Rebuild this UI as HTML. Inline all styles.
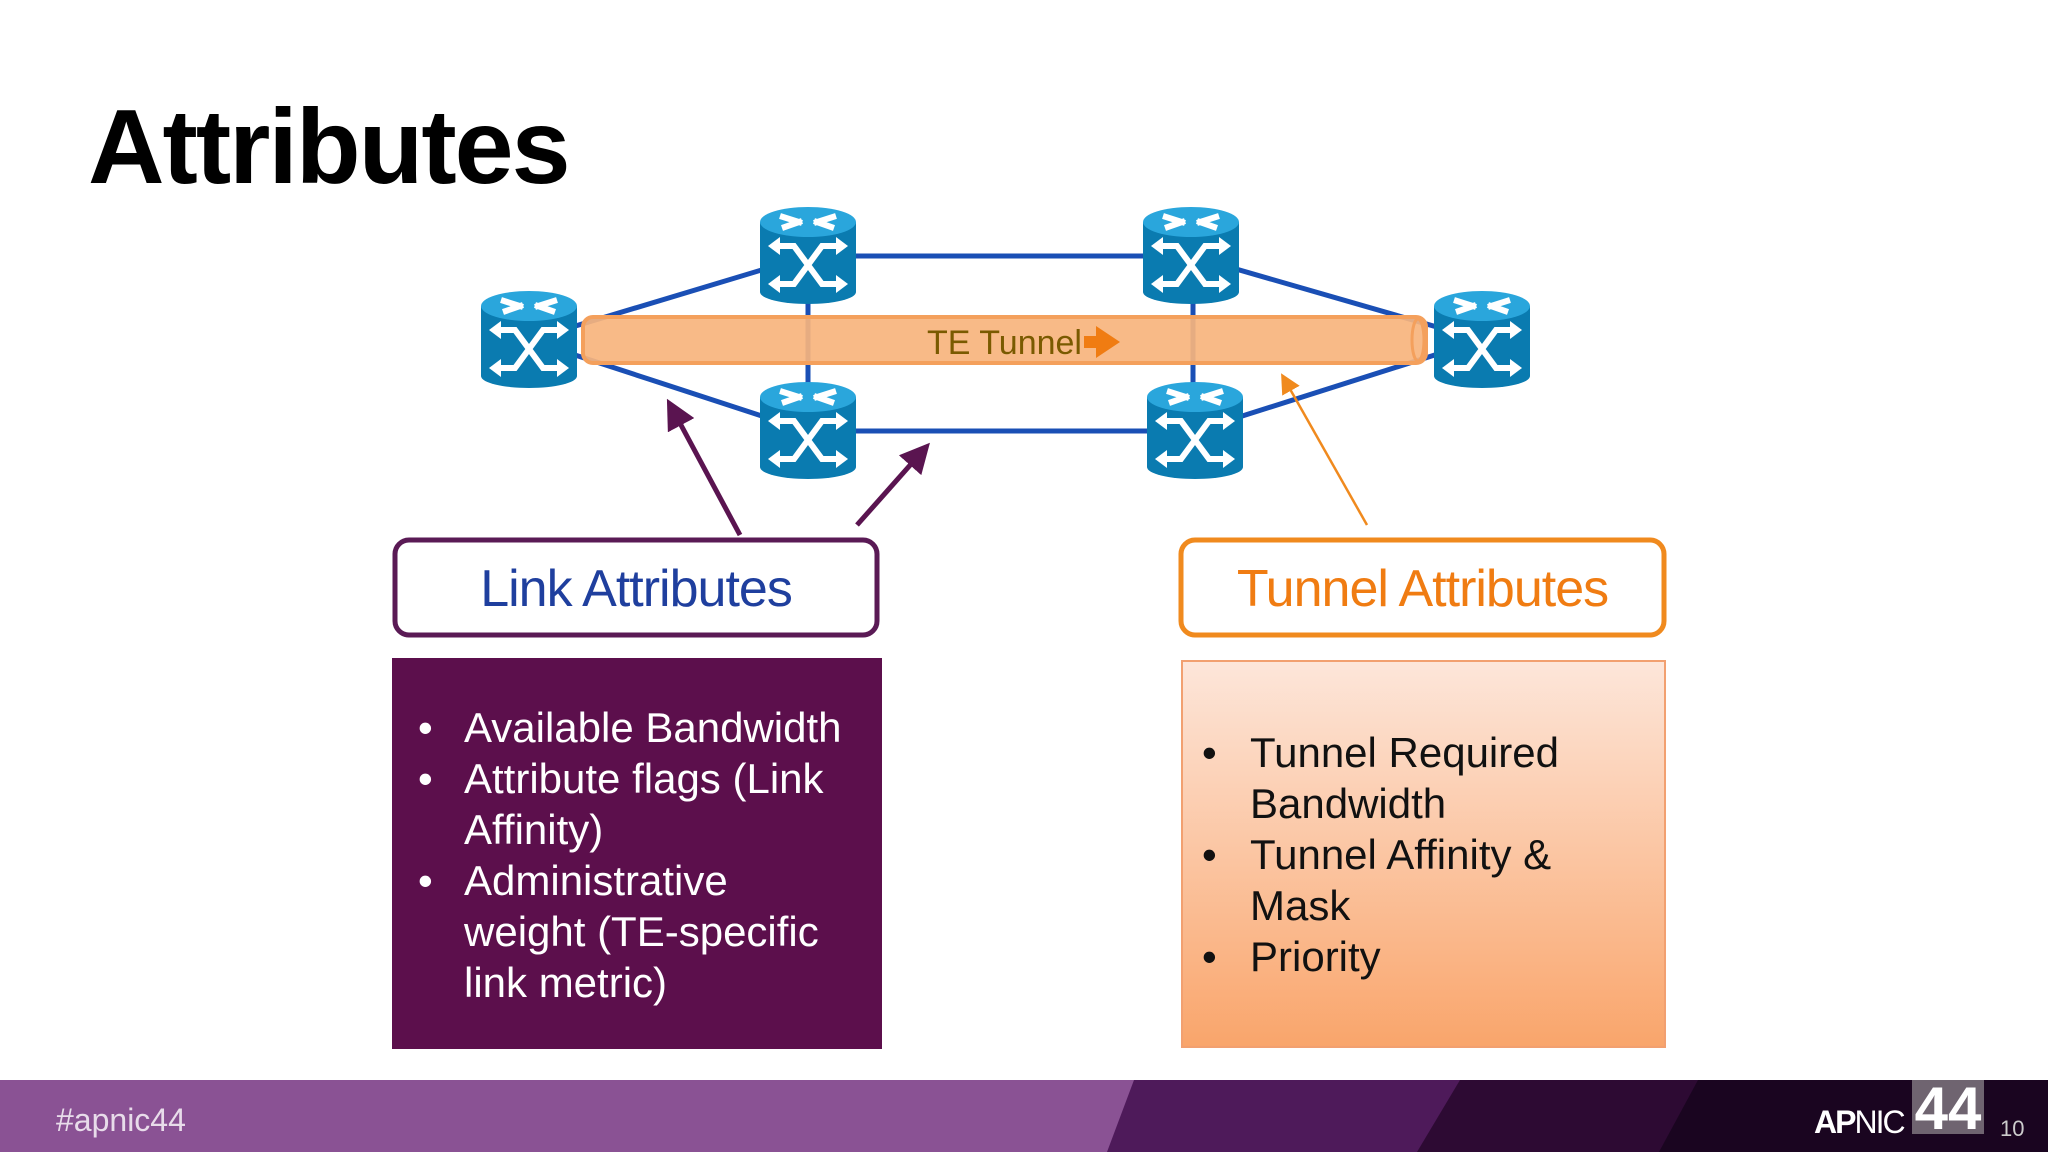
<!DOCTYPE html>
<html><head><meta charset="utf-8"><style>
body{margin:0;width:2048px;height:1152px;overflow:hidden;background:#fff;font-family:"Liberation Sans",sans-serif;position:relative}
.abs{position:absolute}
</style></head><body>
<div class="abs" style="left:88px;top:82px;font-size:106px;font-weight:bold;letter-spacing:-2px;line-height:130px;color:#000">Attributes</div>

<svg class="abs" style="left:0;top:0" width="2048" height="1152">
<defs>
<g id="rt">
<rect x="-48" y="-34" width="96" height="70" fill="#0a7bb0"/>
<ellipse cx="0" cy="36" rx="48" ry="12" fill="#0a7bb0"/>
<ellipse cx="0" cy="-34" rx="48" ry="15" fill="#2aa6dc"/>
<g stroke="#fff" stroke-width="6" fill="none">
<path d="M-28 -40 L-6 -33 M-26 -28 L-6 -35 M28 -40 L6 -33 M26 -28 L6 -35"/>
<path d="M-30 -10 L-14 -10 L14 28 L30 28 M30 -10 L14 -10 L-14 28 L-30 28"/>
</g>
<g fill="#fff">
<polygon points="-40,-10 -28,-19 -28,-1"/><polygon points="40,-10 28,-19 28,-1"/>
<polygon points="-40,28 -28,19 -28,37"/><polygon points="40,28 28,19 28,37"/>
</g>
</g>
<marker id="mp" markerWidth="6" markerHeight="6" refX="3" refY="3" orient="auto"><path d="M0,0 L6,3 L0,6 Z" fill="#5a1450"/></marker>
<marker id="mo" markerWidth="8" markerHeight="8" refX="4" refY="4" orient="auto"><path d="M0,0 L8,4 L0,8 Z" fill="#f08a1e"/></marker>
<linearGradient id="og" x1="0" y1="0" x2="0" y2="1"><stop offset="0" stop-color="#fde6da"/><stop offset="1" stop-color="#f9a56b"/></linearGradient>
</defs>
<g stroke="#1a4fb5" stroke-width="5">
<line x1="529" y1="340" x2="808" y2="256"/><line x1="808" y1="256" x2="1191" y2="256"/>
<line x1="1191" y1="256" x2="1482" y2="340"/><line x1="529" y1="340" x2="808" y2="431"/>
<line x1="808" y1="431" x2="1195" y2="431"/><line x1="1195" y1="431" x2="1482" y2="340"/>
<line x1="808" y1="256" x2="808" y2="431"/><line x1="1193" y1="256" x2="1193" y2="431"/>
</g>
<use href="#rt" x="529" y="340"/><use href="#rt" x="808" y="256"/><use href="#rt" x="1191" y="256"/>
<use href="#rt" x="808" y="431"/><use href="#rt" x="1195" y="431"/><use href="#rt" x="1482" y="340"/>
<rect x="583" y="317" width="843" height="46" rx="10" fill="#f7b47d" fill-opacity="0.92" stroke="#f4a05c" stroke-width="4"/>
<ellipse cx="1418" cy="340" rx="6" ry="21" fill="none" stroke="#f4a05c" stroke-width="3"/>
<text x="927" y="354" font-size="34" fill="#7a5a00" font-family="Liberation Sans">TE Tunnel</text>
<polygon points="1084,336 1096,336 1096,326 1120,342 1096,358 1096,348 1084,348" fill="#f07c12"/>
<line x1="740" y1="535" x2="674" y2="412" stroke="#5a1450" stroke-width="5" marker-end="url(#mp)"/>
<line x1="857" y1="525" x2="920" y2="454" stroke="#5a1450" stroke-width="5" marker-end="url(#mp)"/>
<line x1="1367" y1="525" x2="1286" y2="382" stroke="#f08a1e" stroke-width="2.5" marker-end="url(#mo)"/>
<rect x="395" y="540" width="482" height="95" rx="14" fill="#fff" stroke="#5a1a55" stroke-width="5"/>
<rect x="1181" y="540" width="483" height="95" rx="14" fill="#fff" stroke="#f08a1e" stroke-width="5"/>
<rect x="392" y="658" width="490" height="391" fill="#5c0f4c"/>
<rect x="1182" y="661" width="483" height="386" fill="url(#og)" stroke="#f2a070" stroke-width="2"/>
<rect x="0" y="1080" width="2048" height="72" fill="#1a0520"/>
<polygon points="0,1080 1698,1080 1659,1152 0,1152" fill="#2d0a33"/>
<polygon points="0,1080 1460,1080 1417,1152 0,1152" fill="#4e1a5a"/>
<polygon points="0,1080 1134,1080 1107,1152 0,1152" fill="#8a5294"/>
<rect x="1912" y="1080" width="72" height="54" fill="#6f6470"/>
</svg>

<div class="abs" style="left:395px;top:542px;width:482px;height:95px;line-height:95px;text-align:center;font-size:52px;color:#1f3f9e;letter-spacing:-1px">Link Attributes</div>
<div class="abs" style="left:1181px;top:542px;width:483px;height:95px;line-height:95px;text-align:center;font-size:52px;color:#f07c12;letter-spacing:-1px">Tunnel Attributes</div>

<div class="abs" style="left:418px;top:702px;font-size:42px;line-height:51px;color:#fff">
<div><span style="display:inline-block;width:46px">•</span>Available Bandwidth</div>
<div><span style="display:inline-block;width:46px">•</span>Attribute flags (Link</div>
<div style="padding-left:46px">Affinity)</div>
<div><span style="display:inline-block;width:46px">•</span>Administrative</div>
<div style="padding-left:46px">weight (TE-specific</div>
<div style="padding-left:46px">link metric)</div>
</div>
<div class="abs" style="left:1202px;top:727px;font-size:42px;line-height:51px;color:#111">
<div><span style="display:inline-block;width:48px">•</span>Tunnel Required</div>
<div style="padding-left:48px">Bandwidth</div>
<div><span style="display:inline-block;width:48px">•</span>Tunnel Affinity &amp;</div>
<div style="padding-left:48px">Mask</div>
<div><span style="display:inline-block;width:48px">•</span>Priority</div>
</div>

<div class="abs" style="left:56px;top:1102px;font-size:32px;color:#e8dcea">#apnic44</div>
<div class="abs" style="left:1814px;top:1104px;font-size:32px;font-weight:bold;color:#fff;letter-spacing:-2px">AP<span style="font-weight:normal">NIC</span></div>
<div class="abs" style="left:1912px;top:1078px;width:72px;text-align:center;font-size:60px;font-weight:bold;color:#fff;line-height:62px">44</div>
<div class="abs" style="left:2000px;top:1116px;font-size:22px;color:#ccc">10</div>
</body></html>
